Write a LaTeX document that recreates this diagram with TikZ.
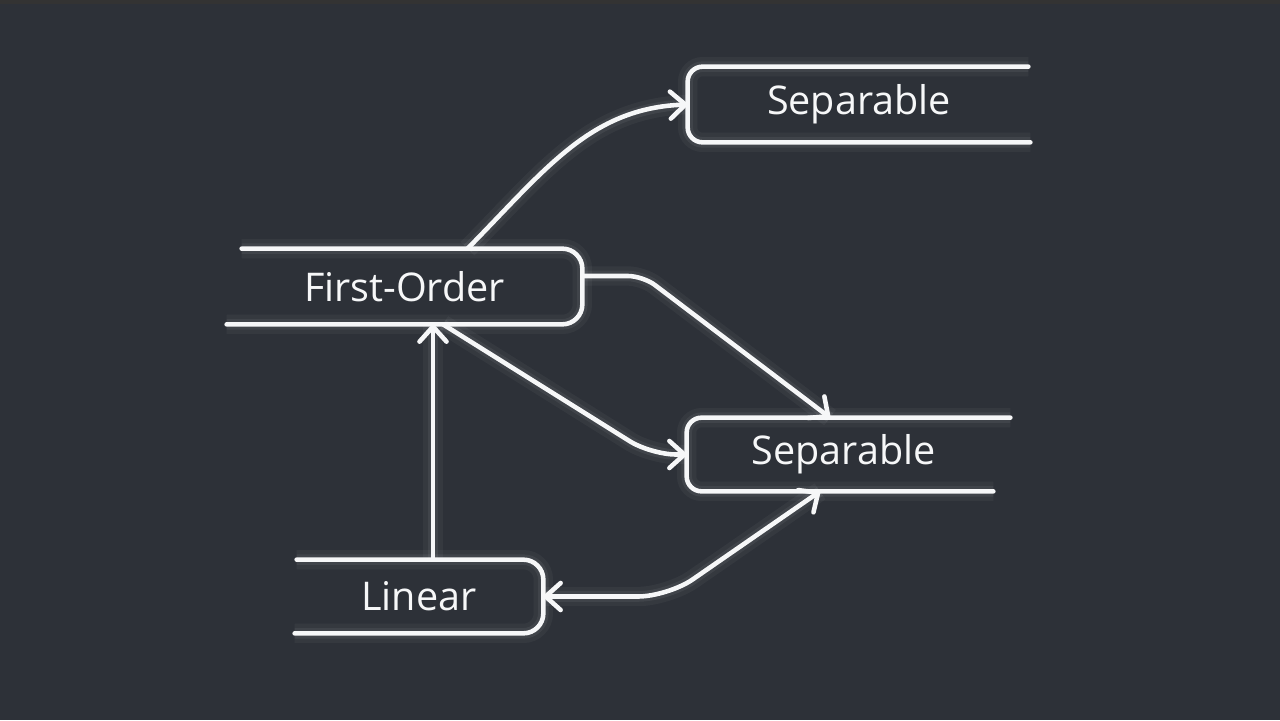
\documentclass[tikz,border=0pt]{standalone}
\usepackage{fontspec}
\setmainfont{Open Sans}
\usetikzlibrary{calc,arrows.meta}
\definecolor{board}{HTML}{2D3138}
\definecolor{chalk}{HTML}{F6F7F8}
\tikzset{
	boxline/.style={line width=2.6pt, color=chalk, line cap=round,
		preaction={draw, -, color=white, opacity=0.04, line width=11pt},
		preaction={draw, -, color=white, opacity=0.06, line width=6pt}},
	conn/.style={boxline, >={Straight Barb[length=3mm, width=5.4mm, round]}},
	term/.style={inner sep=0pt, minimum height=1.5cm, text=chalk, font=\fontsize{22.5}{27}\selectfont}
}

\begin{document}
\begin{tikzpicture}
		%%%%% START %%%%%
		
		\fill[color=board] (0, 0) rectangle (25.6, -14.4);
		\fill[color=black!80] (0, 0) rectangle (25.6, -0.08);
		\useasboundingbox (0, 0) rectangle (25.6, -14.4);
		
		\node[term, minimum width=6.84cm] (sepTop) at (17.18, -2.09) {Separable};
		\node[term, minimum width=7.1cm] (firstOrder) at (8.09, -5.73) {First-Order};
		\node[term, minimum width=6.26cm, minimum height=1.46cm] (sepMid) at (16.87, -9.09) {Separable};
		\node[term, minimum width=4.96cm, minimum height=1.46cm] (linear) at (8.38, -11.93) {Linear};
		
		\draw[boxline, rounded corners=0.3cm] ($(sepTop.north east)+(-0.04, 0)$) -- (sepTop.north west) -- (sepTop.south west) -- (sepTop.south east);
		\draw[boxline, rounded corners=0.4cm] ($(firstOrder.north west)+(0.3, 0)$) -- (firstOrder.north east) -- (firstOrder.south east) -- (firstOrder.south west);
		\draw[boxline, rounded corners=0.3cm] ($(sepMid.north east)+(0.2, 0)$) -- (sepMid.north west) -- (sepMid.south west) -- ($(sepMid.south east)+(-0.14, 0)$);
		\draw[boxline, rounded corners=0.4cm] ($(linear.north west)+(0.04, 0)$) -- (linear.north east) -- (linear.south east) -- (linear.south west);
		
		\draw[conn, ->] ($(firstOrder.north)+(1.26, 0)$) .. controls (10.9, -3.4) and (11.8, -2.16) .. (sepTop.west);
		\draw[conn, ->, rounded corners=0.3cm] ($(firstOrder.east)+(0, 0.21)$) -- (12.86, -5.52) -- ($(sepMid.north)+(-0.27, 0)$);
		\draw[conn, ->, rounded corners=0.5cm] ($(firstOrder.south)+(0.77, 0)$) -- (13.02, -9.09) -- (sepMid.west);
		\draw[conn, ->] ($(linear.north)+(0.28, 0)$) -- ($(firstOrder.south)+(0.57, 0)$);
		\draw[conn, <->, rounded corners=0.6cm] (linear.east) -- (13.36, -11.93) -- ($(sepMid.south)+(-0.47, 0)$);
		
		%%%%% END %%%%%
	\end{tikzpicture}
\end{document}
